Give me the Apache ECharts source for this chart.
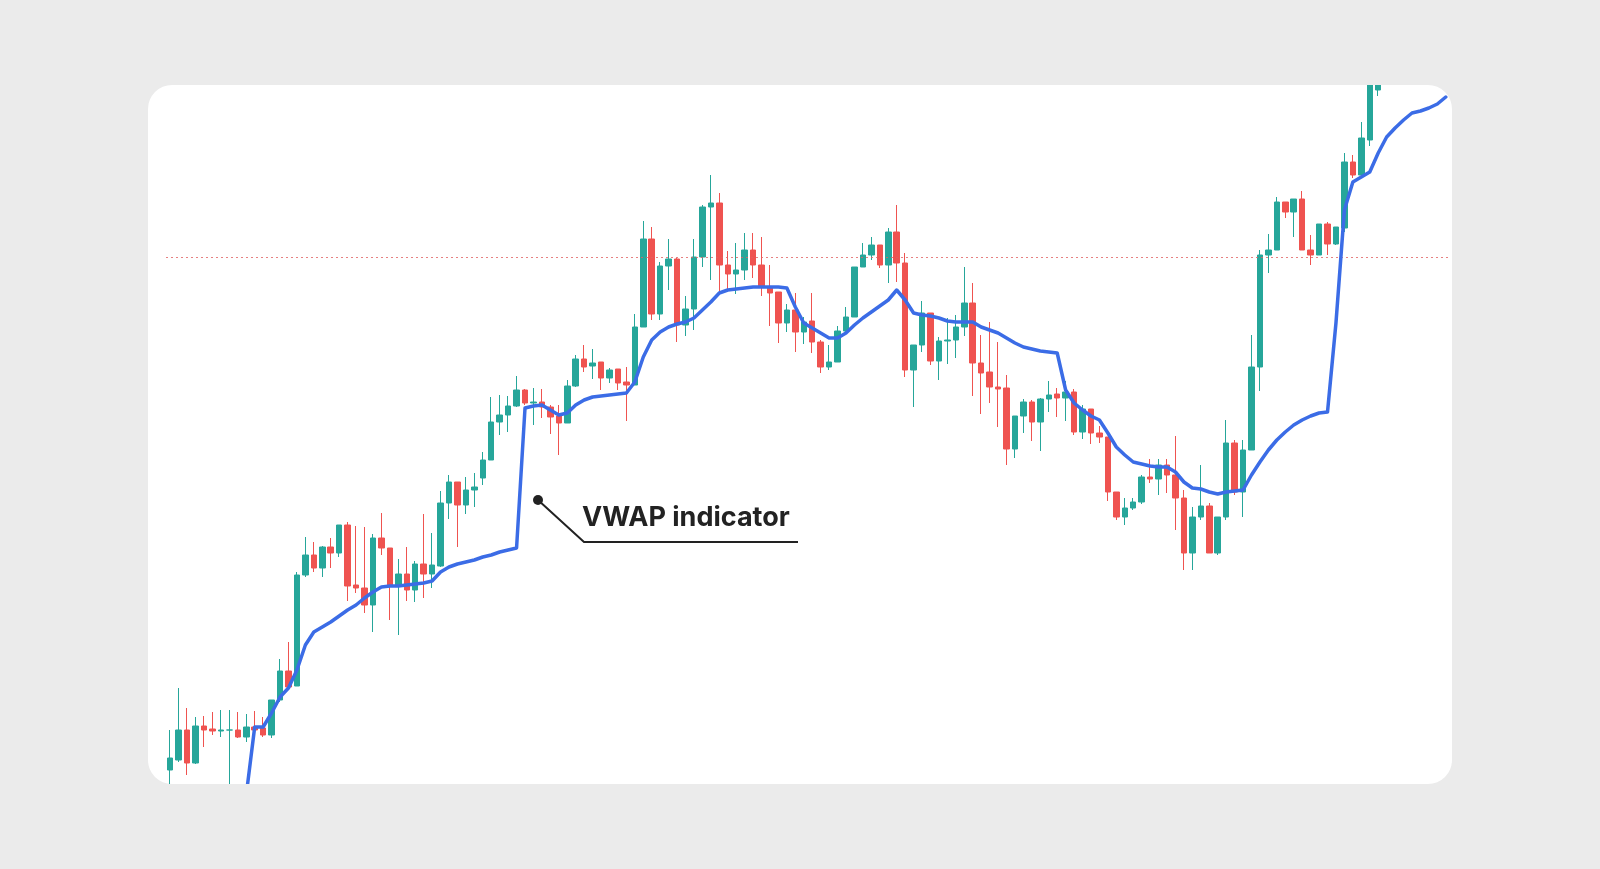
<!DOCTYPE html>
<html><head><meta charset="utf-8">
<script src="https://cdn.jsdelivr.net/npm/echarts@6/dist/echarts.min.js"></script>
<style>
html,body{margin:0;padding:0;width:1600px;height:869px;background:#ebebeb;overflow:hidden}
#card{position:absolute;left:148px;top:85px;width:1304px;height:699px;background:#fff;border-radius:24px}
#c{position:absolute;left:0;top:0;width:1600px;height:869px}
.mask{position:absolute;left:0;width:1600px;background:#ebebeb;z-index:5}
</style></head><body>
<div id="card"></div><div id="c"></div>
<div class="mask" style="top:0;height:85px"></div>
<div class="mask" style="top:784px;height:85px"></div>
<script>
const openY  = [770,760,730,763,726,729,731,730,730,737,727,728,735,700,671,686,575,555,568,547,553,525,585,588,605,538,548,586,574,590,564,574,566,503,482,505,490,478,460,422,415,406,390,403,402,407,416,423,386,359,366,362,378,369,382,385,327,239,314,266,259,325,309,257,207,203,265,274,270,250,265,287,292,323,310,332,321,342,367,362,331,317,267,255,245,265,232,263,370,345,313,361,341,340,327,303,363,372,387,388,449,416,402,422,399,394,398,392,432,409,433,437,492,517,508,502,477,479,465,475,498,553,517,506,553,517,443,492,450,367,255,250,202,212,199,250,255,224,244,228,162,175,140,90,60,50,45,55,40,35,30,25];
const closeY = [758,730,763,726,730,731,730,730,737,727,730,735,700,671,687,575,555,568,547,553,525,586,588,605,538,548,586,574,590,564,574,565,503,482,505,490,487,460,422,415,406,390,403,402,407,417,423,386,359,367,363,378,370,383,385,327,239,314,266,259,325,309,257,207,203,265,274,270,250,265,287,293,323,310,332,322,342,367,362,331,317,267,255,245,265,232,263,370,345,313,361,341,340,327,303,363,373,387,389,449,416,402,422,399,395,398,392,432,409,433,437,492,517,508,502,477,479,465,475,498,553,517,506,553,517,443,492,450,367,255,250,202,212,199,250,255,224,244,227,162,175,138,70,60,45,40,55,40,35,30,25,20];
const highY  = [730,688,708,717,716,712,710,710,712,714,711,717,700,659,642,572,537,542,546,538,525,522,526,527,534,513,548,559,547,561,514,533,491,475,482,477,473,452,397,395,396,376,389,388,389,405,405,380,355,345,349,362,368,369,367,314,221,227,262,239,258,296,239,205,175,193,251,243,233,233,237,265,292,304,293,317,293,340,345,326,307,267,243,237,245,228,205,253,345,301,313,337,318,315,267,283,335,322,342,375,416,399,400,398,381,388,381,389,405,409,426,437,492,498,498,475,459,459,459,436,490,507,465,503,517,420,440,440,335,250,234,197,202,199,191,235,224,222,227,153,155,122,60,50,35,30,35,30,25,20,15,10];
const lowY   = [790,762,775,764,747,735,737,790,738,742,737,737,738,702,688,686,577,572,577,568,557,601,593,613,632,555,620,635,601,602,598,588,567,519,547,514,507,485,460,435,432,407,405,425,418,434,455,423,387,372,379,390,383,390,421,385,327,320,320,290,342,336,330,267,280,292,290,294,280,278,296,326,343,332,352,344,353,373,370,362,335,317,267,260,268,283,282,377,407,352,365,380,364,358,336,396,414,403,427,465,458,433,441,451,412,417,421,435,439,444,443,501,520,525,510,504,483,495,493,530,570,570,520,553,555,520,495,517,450,391,273,250,218,237,250,265,255,255,245,232,178,175,146,96,70,60,62,60,50,45,40,35];
const vwapY  = [null,null,null,null,null,null,null,null,null,795,727,727,713,697,688,670,645,632,627,622,616,610,605,598,592,587,586,586,585,584,583,581,572,567,564,562,560,557,555,552,550,548,408,406,405,410,415,413,405,400,397,396,395,394,393,382,357,340,332,327,324,322,318,310,302,293,290,289,288,287,287,287,287,288,307,323,328,333,338,338,333,325,318,312,306,300,290,300,313,315,316,318,321,322,322,322,327,330,333,338,343,347,349,351,352,353,390,403,410,416,420,433,447,455,462,464,466,467,467,472,482,488,489,492,494,492,491,490,475,462,450,440,432,425,420,416,413,412,323,210,182,177,172,153,137,128,120,113,111,108,104,97];
const refLineY = 257;
const labelText = 'VWAP indicator';

const toPrice = y => y == null ? null : 1000 - y;
const categories = openY.map((_, i) => String(i + 1));
const candles = openY.map((o, i) => [toPrice(o), toPrice(closeY[i]), toPrice(lowY[i]), toPrice(highY[i])]);
const vwap = vwapY.map(toPrice);

const chart = echarts.init(document.getElementById('c'));
chart.setOption({
  animation: false,
  backgroundColor: 'transparent',
  grid: {left: 166, width: 1284, top: 85, bottom: 85},
  xAxis: {type: 'category', data: categories, boundaryGap: true, show: false},
  yAxis: {type: 'value', min: 216, max: 915, show: false, splitLine: {show: false}},
  series: [
    {type: 'candlestick', data: candles, barWidth: 6, clip: true,
     itemStyle: {color: '#26a69a', color0: '#ef5350', borderColor: '#26a69a', borderColor0: '#ef5350', borderWidth: 1},
     markLine: {silent: true, symbol: 'none', label: {show: false},
       lineStyle: {type: [2, 3], color: '#e06060', width: 1, opacity: 0.8},
       data: [{yAxis: toPrice(refLineY)}]}},
    {type: 'line', data: vwap, symbol: 'none', clip: true, connectNulls: false,
     lineStyle: {color: '#3b6ce6', width: 3.5, cap: 'round', join: 'round'}, z: 5}
  ],
  graphic: [
    {type: 'circle', shape: {cx: 538, cy: 500, r: 5}, style: {fill: '#222'}, z: 10},
    {type: 'polyline', shape: {points: [[538, 500], [584, 542], [798, 542]]}, style: {stroke: '#222', lineWidth: 2, fill: null}, z: 10},
    {type: 'text', left: 582, top: 504, style: {text: labelText, fill: '#222', font: 'bold 27px Inter, "Noto Sans", sans-serif', letterSpacing: 0.6}, z: 10}
  ]
});
</script></body></html>
